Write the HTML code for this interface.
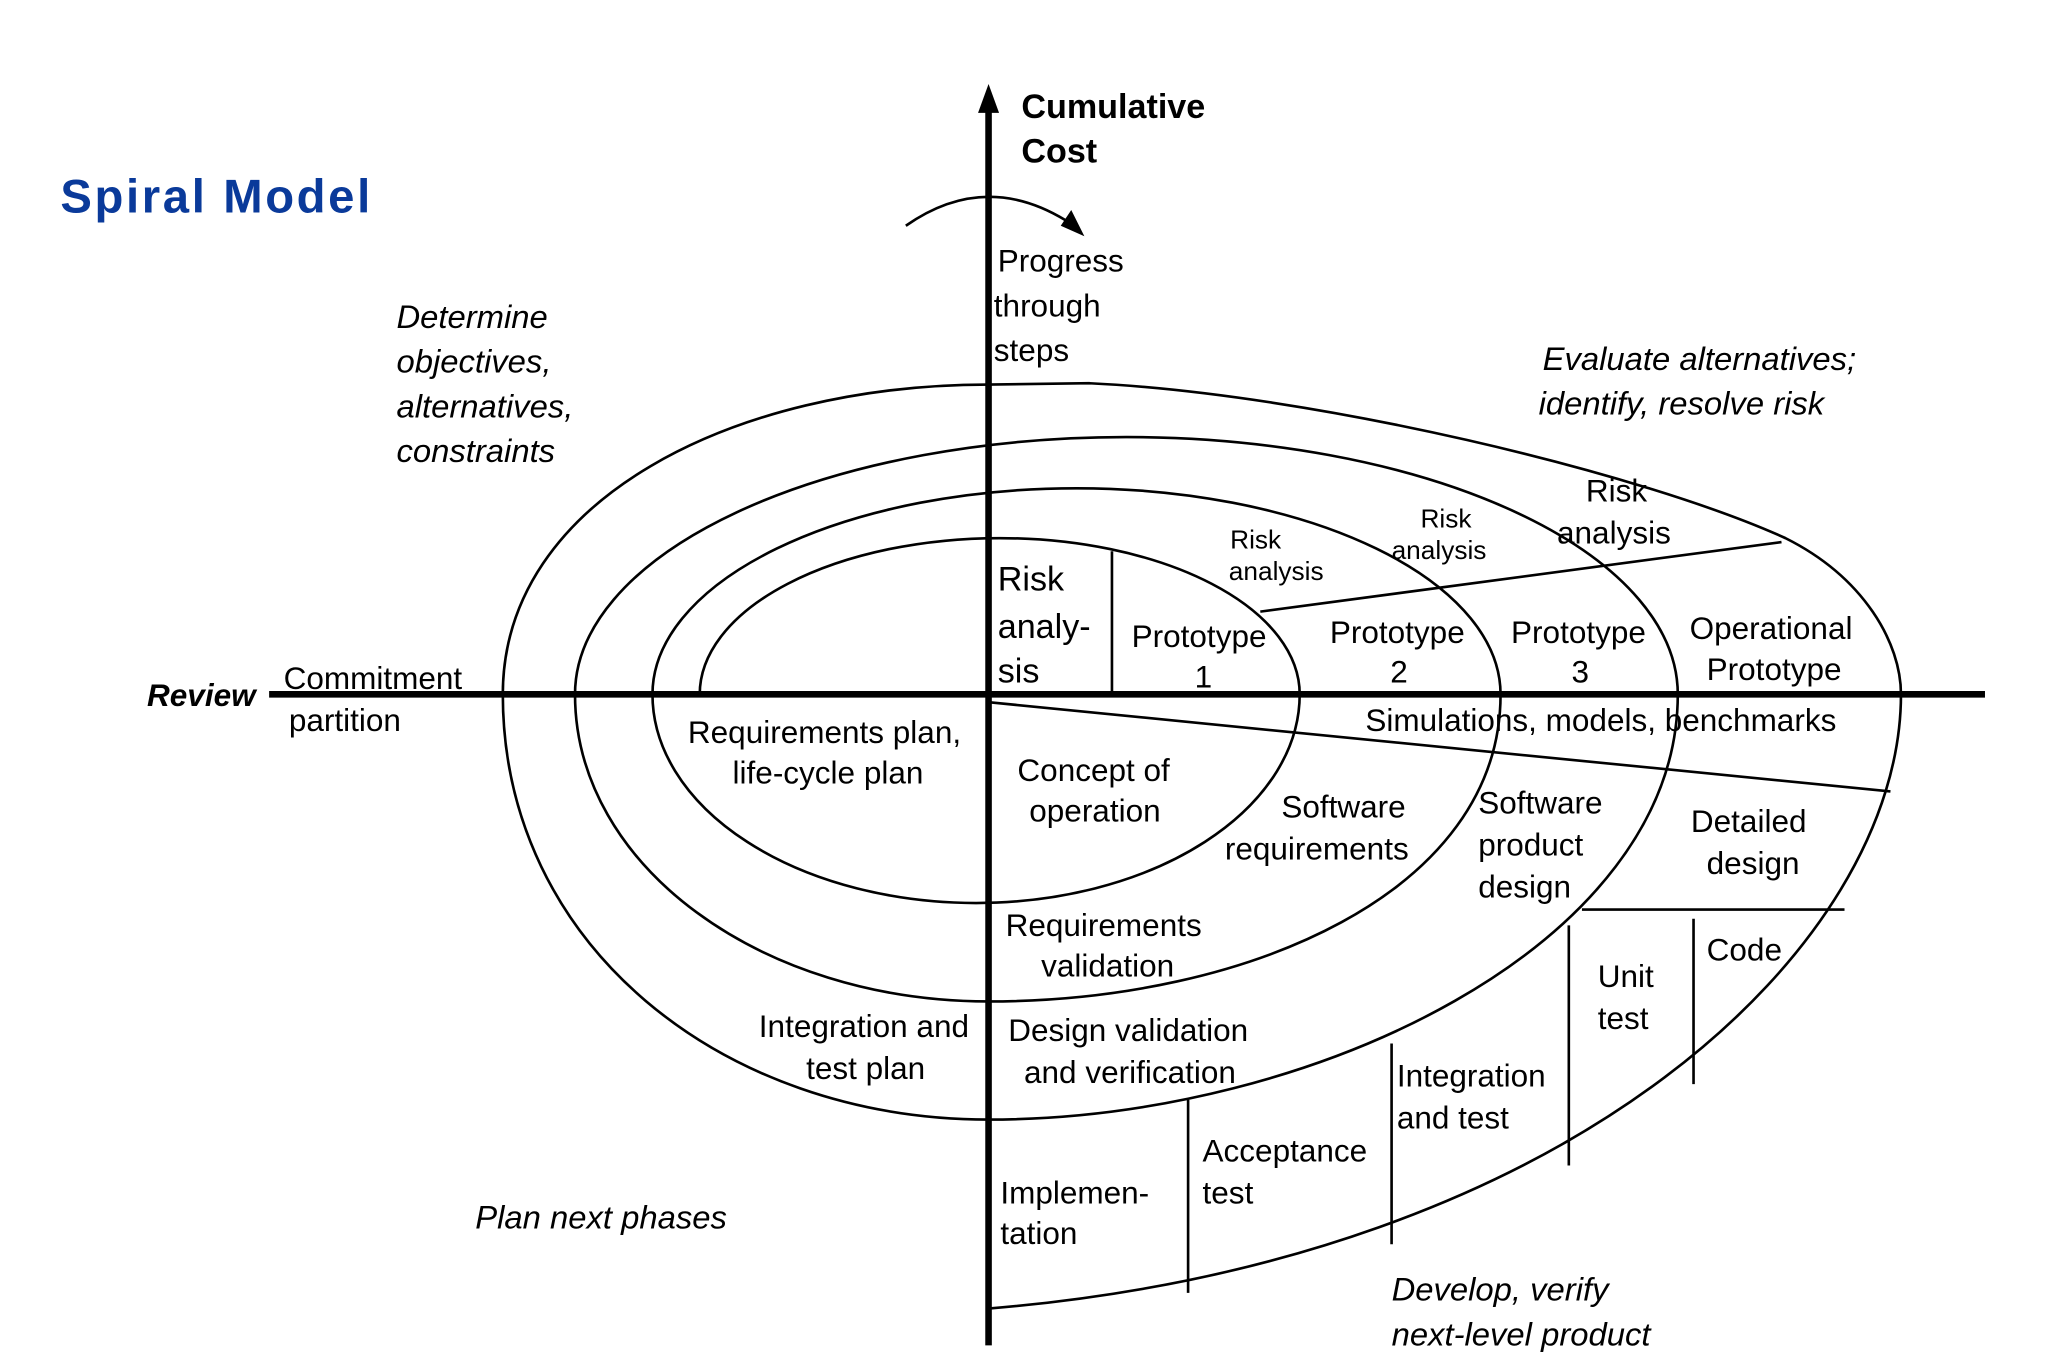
<!DOCTYPE html>
<html><head><meta charset="utf-8"><style>
html,body{margin:0;padding:0;background:#fff;}
svg{display:block;}
text{font-family:"Liberation Sans",sans-serif;fill:#000;}
.t{font-size:24px;}
.i{font-size:25px;font-style:italic;}
</style></head><body>
<svg width="2048" height="1365" viewBox="0 0 1560 1040" preserveAspectRatio="none">
<rect width="1560" height="1040" fill="#fff"/>
<text x="46" y="162" style="font-size:36px;font-weight:bold;fill:#0a3a9a;letter-spacing:2px">Spiral Model</text>
<g stroke="#000" fill="none">
<line x1="753" y1="75" x2="753" y2="1025" stroke-width="5"/>
<polygon points="753,64 745,86 761,86" fill="#000" stroke="none"/>
<line x1="205" y1="529" x2="1512" y2="529" stroke-width="5"/>
<path d="M690,172 Q750,130 812,168" stroke-width="2"/>
<polygon points="826,180 808,172 816,160" fill="#000" stroke="none"/>
<g stroke-width="2">
<path d="M533,529 A228.5,119 0 0 1 990,529 A246.5,159 0 0 1 497,529 A323,157 0 0 1 1143,529 C1143,680 950,763 753,763 C580,763 438,660 438,529 A420,196 0 0 1 1278,529 C1278,720 1000,853 753,853 C550,853 383,720 383,529"/>
<path d="M383,529 C383,380 560,293 753,293 L830,292 C1000,300 1250,360 1360,410 C1420,440 1448,490 1448,529 C1448,720 1200,960 753,997"/>
<line x1="753" y1="535" x2="1440" y2="603"/>
<line x1="960" y1="466" x2="1357" y2="413"/>
<line x1="847" y1="420" x2="847" y2="529"/>
<line x1="1205" y1="693" x2="1405" y2="693"/>
<line x1="1195" y1="705" x2="1195" y2="888"/>
<line x1="1290" y1="700" x2="1290" y2="826"/>
<line x1="1060" y1="795" x2="1060" y2="948"/>
<line x1="905" y1="838" x2="905" y2="985"/>
</g></g>
<g style="font-size:26px;font-weight:bold">
<text x="778" y="90">Cumulative</text><text x="778" y="124">Cost</text>
</g>
<text x="112" y="538" style="font-size:24px;font-weight:bold;font-style:italic">Review</text>
<g class="t">
<text x="760" y="207">Progress</text><text x="757" y="241">through</text><text x="757" y="275">steps</text>
<text x="216" y="525">Commitment</text><text x="220" y="557">partition</text>
<text x="760" y="450" style="font-size:26px">Risk</text><text x="760" y="486" style="font-size:26px">analy-</text><text x="760" y="520" style="font-size:26px">sis</text>
<text x="862" y="493">Prototype</text><text x="910" y="524">1</text>
<text x="1013" y="490">Prototype</text><text x="1059" y="520">2</text>
<text x="1151" y="490">Prototype</text><text x="1197" y="520">3</text>
<text x="1287" y="487">Operational</text><text x="1300" y="518">Prototype</text>
<text x="937" y="418" style="font-size:20px">Risk</text><text x="936" y="442" style="font-size:20px">analysis</text>
<text x="1082" y="402" style="font-size:20px">Risk</text><text x="1060" y="426" style="font-size:20px">analysis</text>
<text x="1208" y="382">Risk</text><text x="1186" y="414">analysis</text>
<text x="1040" y="557">Simulations, models, benchmarks</text>
<text x="524" y="566">Requirements plan,</text><text x="558" y="597">life-cycle plan</text>
<text x="775" y="595">Concept of</text><text x="784" y="626">operation</text>
<text x="976" y="623">Software</text><text x="933" y="655">requirements</text>
<text x="1126" y="620">Software</text><text x="1126" y="652">product</text><text x="1126" y="684">design</text>
<text x="1288" y="634">Detailed</text><text x="1300" y="666">design</text>
<text x="1300" y="732">Code</text>
<text x="1217" y="752">Unit</text><text x="1217" y="784">test</text>
<text x="766" y="713">Requirements</text><text x="793" y="744">validation</text>
<text x="578" y="790">Integration and</text><text x="614" y="822">test plan</text>
<text x="768" y="793">Design validation</text><text x="780" y="825">and verification</text>
<text x="1064" y="828">Integration</text><text x="1064" y="860">and test</text>
<text x="916" y="885">Acceptance</text><text x="916" y="917">test</text>
<text x="762" y="917">Implemen-</text><text x="762" y="948">tation</text>
</g>
<g class="i">
<text x="302" y="250">Determine</text><text x="302" y="284">objectives,</text><text x="302" y="318">alternatives,</text><text x="302" y="352">constraints</text>
<text x="1175" y="282">Evaluate alternatives;</text><text x="1172" y="316">identify, resolve risk</text>
<text x="362" y="936">Plan next phases</text>
<text x="1060" y="991">Develop, verify</text><text x="1060" y="1025">next-level product</text>
</g>
</svg>
</body></html>
